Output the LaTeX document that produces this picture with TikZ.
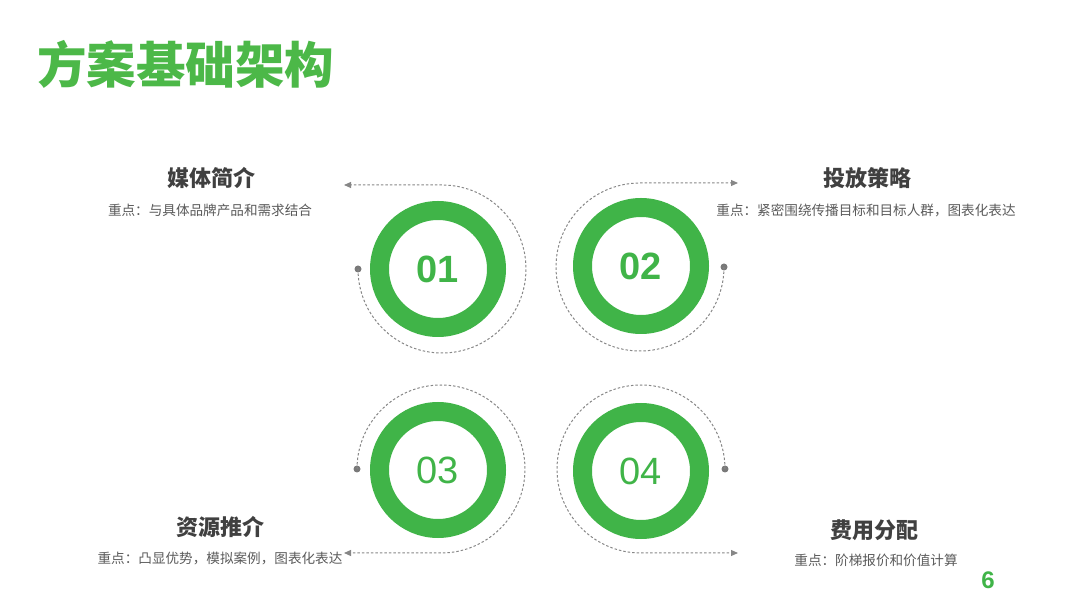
\documentclass[tikz,border=0pt]{standalone}
\usepackage{fontspec}
\setmainfont{Liberation Sans}
\newfontfamily\cjk{Noto Sans CJK SC}
\usetikzlibrary{arrows.meta}
\definecolor{grn}{RGB}{64,180,72}
\definecolor{ttl}{RGB}{76,184,72}
\definecolor{dk}{RGB}{64,64,64}
\definecolor{sub}{RGB}{90,90,90}
\definecolor{dsh}{RGB}{135,135,135}
\tikzset{
  ring/.style={circle,draw=grn,line width=19pt,minimum size=117pt,inner sep=0pt,text=grn,font=\fontsize{38}{38}\selectfont\bfseries},
  ringl/.style={ring,font=\fontsize{38}{38}\selectfont},
  head/.style={text=dk,font=\cjk\bfseries\fontsize{22}{22}\selectfont,inner sep=0pt},
  subt/.style={text=sub,font=\cjk\fontsize{13.6}{13.6}\selectfont,inner sep=0pt},
  dotn/.style={circle,fill=dsh!90!black,minimum size=7pt,inner sep=0pt},
  trail/.style={draw=dsh,line width=1pt,dash pattern=on 2.5pt off 2pt,-{Triangle[length=7pt,width=6pt]}},
}
\begin{document}
\begin{tikzpicture}[x=1pt,y=1pt]
\useasboundingbox (0,0) rectangle (1080,608);
% title
\node[anchor=west,text=ttl,font=\cjk\bfseries\fontsize{49.5}{49.5}\selectfont,inner sep=0pt] (title) at (37,544) {方案基础架构};
% rings
\node[ring] (r1) at (438,339) {01};
\node[ring] (r2) at (641,342) {02};
\node[ringl] (r3) at (438,138) {03};
\node[ringl] (r4) at (641,137) {04};
% dots
\node[dotn] (d1) at (358,339) {};
\node[dotn] (d2) at (724,341) {};
\node[dotn] (d3) at (357,139) {};
\node[dotn] (d4) at (725,139) {};
% arrow ends
\coordinate (e1) at (344,423);
\coordinate (e2) at (738,425);
\coordinate (e3) at (344,55);
\coordinate (e4) at (738,55);
% trails
\draw[trail] (d1.center) arc[start angle=180,end angle=450,radius=84] -- (e1);
\draw[trail] (d2.center) arc[start angle=0,end angle=-270,radius=84] -- (e2);
\draw[trail] (d3.center) arc[start angle=180,end angle=-90,radius=84] -- (e3);
\draw[trail] (d4.center) arc[start angle=0,end angle=270,radius=84] -- (e4);
% texts
\node[head] (h1) at (211,430) {媒体简介};
\node[subt] (s1) at (210,398) {重点：与具体品牌产品和需求结合};
\node[head] (h2) at (867,430) {投放策略};
\node[subt] (s2) at (866,398) {重点：紧密围绕传播目标和目标人群，图表化表达};
\node[head] (h3) at (220,81) {资源推介};
\node[subt] (s3) at (220,50) {重点：凸显优势，模拟案例，图表化表达};
\node[head] (h4) at (874,78) {费用分配};
\node[subt] (s4) at (876,48) {重点：阶梯报价和价值计算};
% page number
\node[text=grn,font=\fontsize{24}{24}\selectfont\bfseries,inner sep=0pt] (pg) at (988,28) {6};
\end{tikzpicture}
\end{document}
